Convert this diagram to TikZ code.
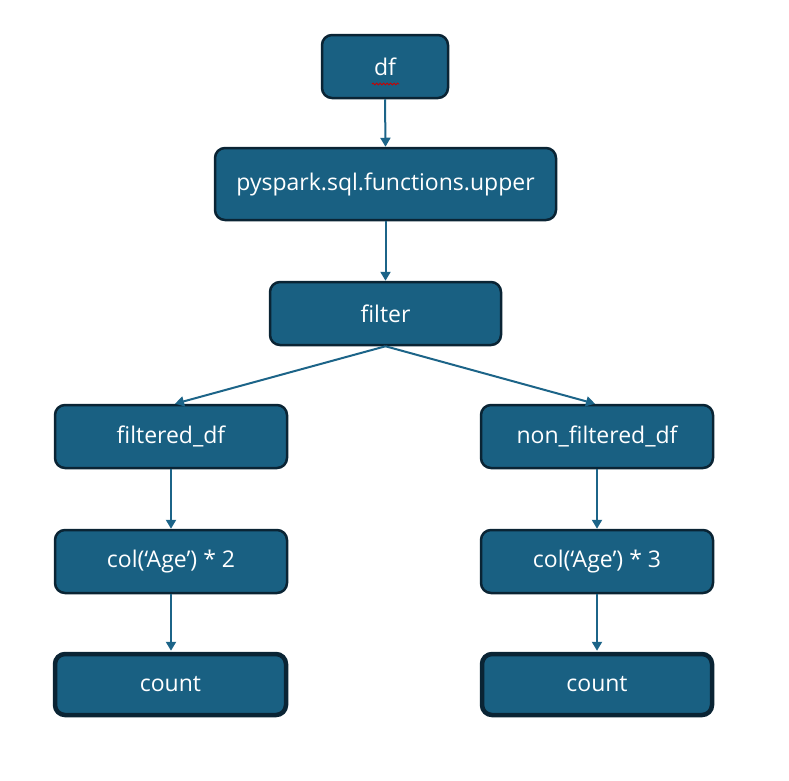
\documentclass[tikz,border=0pt]{standalone}
\usepackage{fontspec}
\setmainfont{Open Sans}
\usetikzlibrary{arrows.meta,decorations.pathmorphing}
\definecolor{boxfill}{RGB}{25,96,130}
\definecolor{boxedge}{RGB}{10,36,52}
\definecolor{arrowcol}{RGB}{28,100,136}
\tikzset{
  box/.style={draw=boxedge, fill=boxfill, line width=2.5pt, rounded corners=10pt,
    text=white, font=\fontsize{23}{26}\selectfont, inner sep=0pt, align=center},
  thickbox/.style={box, line width=4.5pt},
  conn/.style={draw=arrowcol, line width=2pt, -{Triangle[length=9pt,width=10pt]}},
}
\begin{document}
\begin{tikzpicture}[x=1pt,y=-1pt]
\useasboundingbox (0,0) rectangle (789,780);
\node[box, minimum width=126pt, minimum height=63pt] (df) at (385,66.5) {df};
\node[box, minimum width=341pt, minimum height=72pt] (py) at (385.5,184) {pyspark.sql.functions.upper};
\node[box, minimum width=231pt, minimum height=63pt] (filter) at (385.5,313.5) {filter};
\node[box, minimum width=232pt, minimum height=63pt] (fdf) at (171,436.5) {filtered\_df};
\node[box, minimum width=232pt, minimum height=63pt] (nfdf) at (597,436.5) {non\_filtered\_df};
\node[box, minimum width=232pt, minimum height=63pt] (c2) at (171,561.5) {col(‘Age’) * 2};
\node[box, minimum width=232pt, minimum height=63pt] (c3) at (597,561.5) {col(‘Age’) * 3};
\node[thickbox, minimum width=231pt, minimum height=61pt] (cnt1) at (170.5,684.5) {count};
\node[thickbox, minimum width=230pt, minimum height=61pt] (cnt2) at (597,684.5) {count};
\coordinate (squigA) at (372,84);
\coordinate (squigB) at (399,84);
\draw[red!80!black, line width=0.8pt, decorate, decoration={snake, amplitude=1pt, segment length=3.5pt}] (squigA) -- (squigB);
\draw[conn] (df.south) -- (py.north);
\draw[conn] (py.south) -- (filter.north);
\draw[conn] (filter.south) -- ([xshift=4pt]fdf.north);
\draw[conn] (filter.south) -- ([xshift=-2pt]nfdf.north);
\draw[conn] (fdf.south) -- (c2.north);
\draw[conn] (nfdf.south) -- (c3.north);
\draw[conn] (c2.south) -- ([yshift=1pt]cnt1.north -| c2.south);
\draw[conn] (c3.south) -- ([yshift=1pt]cnt2.north -| c3.south);
\end{tikzpicture}
\end{document}
